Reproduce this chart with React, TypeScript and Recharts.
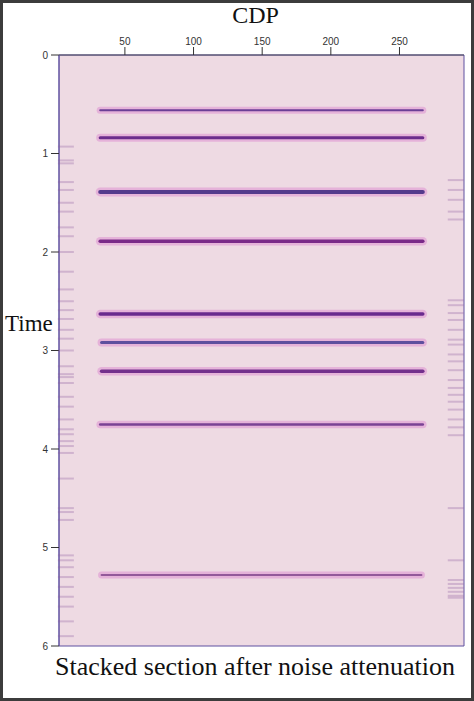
import { ComposedChart, Line, XAxis, YAxis, CartesianGrid, ReferenceArea, Scatter, Label } from 'recharts';

// CDP / time axes
const cdpTicks = [50, 100, 150, 200, 250];
const timeTicks = [0, 1, 2, 3, 4, 5, 6];

// reflector events (time, first CDP, last CDP)
const reflectorTimes = [0.56, 0.84, 1.39, 1.89, 2.63, 2.92, 3.21, 3.75, 5.28];
const reflectorStart = [32, 32, 32, 32, 32, 33, 33, 32, 33];
const reflectorEnd = [267, 267, 267, 267, 267, 267, 267, 267, 266];

// residual noise traces at the edges of the section
const leftNoiseTimes = [
  0.93, 1.07, 1.1, 1.29, 1.37, 1.5, 1.59, 1.75, 1.84, 2.0, 2.2, 2.38, 2.5, 2.59, 2.68,
  2.79, 2.88, 3.0, 3.16, 3.24, 3.27, 3.33, 3.47, 3.57, 3.7, 3.8, 3.85, 3.92, 3.97, 4.04,
  4.3, 4.6, 4.64, 4.72, 5.08, 5.13, 5.2, 5.3, 5.4, 5.5, 5.6, 5.75, 5.9,
];
const rightNoiseTimes = [
  1.27, 1.37, 1.47, 1.59, 1.67, 2.49, 2.54, 2.62, 2.69, 2.79, 2.89, 2.94, 3.04, 3.11,
  3.2, 3.3, 3.38, 3.45, 3.52, 3.6, 3.7, 3.78, 3.86, 4.6, 5.13, 5.33, 5.37, 5.41, 5.45,
  5.49, 5.51,
];

const coreColors = ['#6b3f96', '#6b2d8c', '#543a8c', '#7a2a88', '#6a2a8e', '#5e4f9e', '#73308c', '#7a4294', '#93599a'];
const coreWidths = [2, 3, 4, 3.5, 3.5, 3, 3.5, 2.5, 2];

const reflectors = reflectorTimes.map((t, i) => [
  { cdp: reflectorStart[i], t },
  { cdp: reflectorEnd[i], t },
]);
const leftNoise = leftNoiseTimes.map((t) => ({ cdp: 7, t }));
const rightNoise = rightNoiseTimes.map((t) => ({ cdp: 291, t }));

const tickStyle = { fontSize: 10, fontFamily: 'Liberation Sans, Arial, sans-serif', fill: '#333' };
const serif = 'Liberation Serif, Times New Roman, serif';

const NoiseDash = (props: any) => {
  const { cx, cy } = props;
  return <rect x={cx - 8} y={cy - 1} width={16} height={2} fill="#8a5aa0" fillOpacity={0.3} />;
};

export default function App() {
  return (
    <div style={{ position: 'absolute', left: 0, top: 0, width: 474, height: 701, background: '#fff' }}>
      <ComposedChart width={474} height={701} margin={{ top: 0, right: 10, bottom: 55, left: 0 }}>
        <CartesianGrid horizontal={false} vertical={false} fill="#eedae3" />
        <XAxis
          xAxisId={0}
          type="number"
          dataKey="cdp"
          orientation="top"
          height={55}
          domain={[2, 297]}
          ticks={cdpTicks}
          tick={tickStyle}
          tickSize={8}
          tickMargin={2}
          axisLine={{ stroke: '#4a4a5a' }}
          tickLine={{ stroke: '#333' }}
        >
          <Label value="CDP" position="insideTop" offset={6} dx={-6} fontSize={24} fontFamily={serif} fill="#111" />
        </XAxis>
        <YAxis
          type="number"
          dataKey="t"
          reversed
          width={59}
          domain={[0, 6]}
          ticks={timeTicks}
          interval={0}
          tick={tickStyle}
          tickSize={8}
          tickMargin={3}
          axisLine={{ stroke: '#5f50a0' }}
          tickLine={{ stroke: '#333' }}
        >
          <Label value="Time" position="insideLeft" offset={5} dy={-28} fontSize={23} fontFamily={serif} fill="#111" />
        </YAxis>
        <ReferenceArea x1={2} x2={297} y1={0} y2={6} fill="none" stroke="#5f50a0" strokeWidth={1} />
        <Scatter data={leftNoise} dataKey="t" shape={NoiseDash} isAnimationActive={false} />
        <Scatter data={rightNoise} dataKey="t" shape={NoiseDash} isAnimationActive={false} />
        {reflectors.map((d, i) => (
          <Line
            key={`halo${i}`}
            data={d}
            dataKey="t"
            stroke="#e2a4d6"
            strokeOpacity={0.75}
            strokeWidth={coreWidths[i] + 5}
            strokeLinecap="round"
            dot={false}
            activeDot={false}
            isAnimationActive={false}
          />
        ))}
        {reflectors.map((d, i) => (
          <Line
            key={`core${i}`}
            data={d}
            dataKey="t"
            stroke={coreColors[i]}
            strokeWidth={coreWidths[i]}
            strokeLinecap="round"
            dot={false}
            activeDot={false}
            isAnimationActive={false}
          />
        ))}
      </ComposedChart>
      <div
        style={{
          position: 'absolute',
          left: 0,
          top: 652,
          width: 510,
          textAlign: 'center',
          fontFamily: serif,
          fontSize: 26,
          color: '#111',
          whiteSpace: 'nowrap',
        }}
      >
        Stacked section after noise attenuation
      </div>
      <div
        style={{
          position: 'absolute',
          left: 0,
          top: 0,
          width: 474,
          height: 701,
          boxSizing: 'border-box',
          border: '3px solid #3c3c3c',
          pointerEvents: 'none',
        }}
      />
    </div>
  );
}
